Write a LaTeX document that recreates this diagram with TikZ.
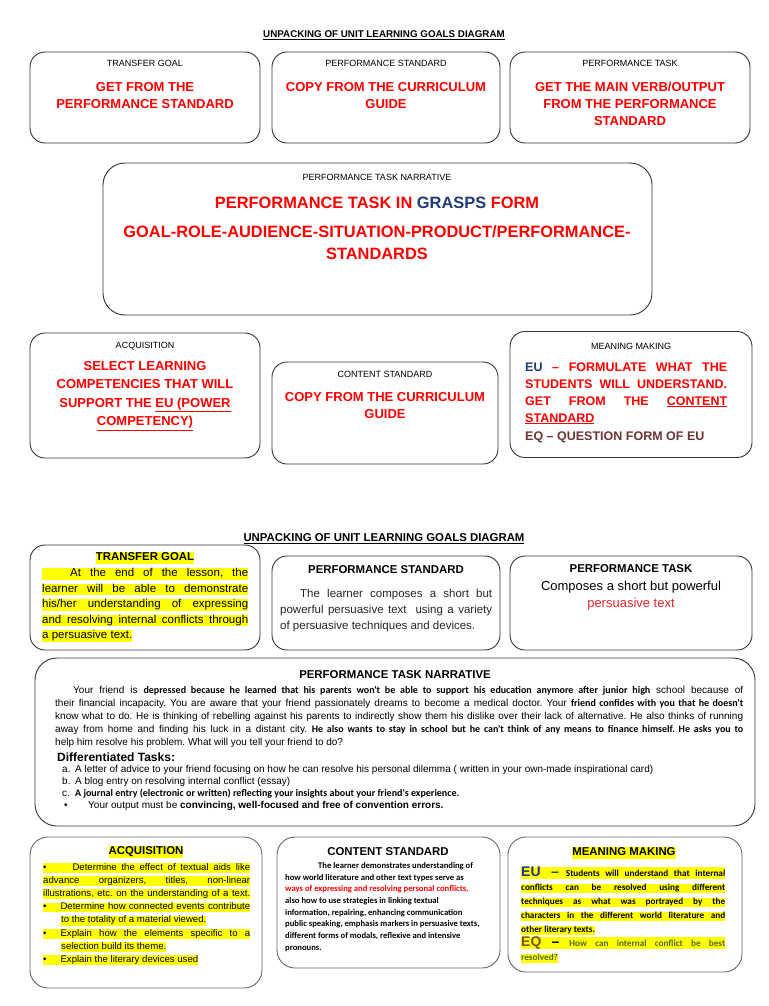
\documentclass[tikz,border=0pt]{standalone}
\usepackage{fontspec}
\setmainfont{Liberation Sans}
\newfontfamily\carlito{Carlito}
\definecolor{ugred}{HTML}{FF0000}
\definecolor{ptred}{HTML}{E8262B}
\definecolor{ugnavy}{HTML}{1F3A78}
\definecolor{eqbrown}{HTML}{6E3434}
\definecolor{eqgold}{HTML}{7F4F10}
\definecolor{eqgreen}{HTML}{4F6A28}
\definecolor{hlyellow}{HTML}{FFFF00}
\setlength{\fboxsep}{0pt}
\frenchspacing
\newcommand{\fsz}[2]{\fontsize{#1}{#2}\selectfont}
\newcommand{\hlstrut}{\rule[-0.28em]{0pt}{1.02em}}
\newcommand{\hlfull}[2]{\colorbox{hlyellow}{\makebox[#1][s]{\hlstrut#2}}}
\newcommand{\hlpart}[1]{\colorbox{hlyellow}{\hlstrut#1}}
\newcommand{\jline}[2]{\makebox[#1][s]{#2}}
\newcommand{\calb}{\carlito\bfseries\fsz{10}{13}}
\newcommand{\mmcal}{\carlito\bfseries\fsz{9.2}{14}}
\newcommand{\csfont}{\carlito\bfseries\fsz{8.6}{11.7}}

\begin{document}
\begin{tikzpicture}[x=1pt, y=-1pt,
  goalbox/.style={draw=black!80, line width=0.9pt, rounded corners=15pt, fill=white},
  lowbox/.style={draw=black!60, line width=0.9pt, rounded corners=18pt, fill=white},
  boxlabel/.style={font=\fsz{9}{11}},
  redbody/.style={text=ugred, font=\bfseries\fsz{13}{17.2}, align=center},
  headbold/.style={font=\bfseries\fsz{11.4}{14}},
  bodytext/.style={anchor=west, inner sep=0pt, align=left}]
\useasboundingbox[fill=white] (0,0) rectangle (768,1006);

\node[font=\bfseries\fsz{9.8}{12}] (title1) at (384,35) {\underline{UNPACKING OF UNIT LEARNING GOALS DIAGRAM}};

\node[goalbox, minimum width=230pt, minimum height=91pt] (tgoal) at (145,97.5) {};
\node[goalbox, minimum width=228pt, minimum height=91pt] (pstd) at (386,97.5) {};
\node[goalbox, minimum width=240pt, minimum height=91pt] (ptask) at (630,97.5) {};
\node[boxlabel] (tgoalhead) at (145,63) {TRANSFER GOAL};
\node[boxlabel] (pstdhead) at (386,63) {PERFORMANCE STANDARD};
\node[boxlabel] (ptaskhead) at (630,63) {PERFORMANCE TASK};
\node[redbody] (tgoalbody) at (145,95.5) {GET FROM THE\\PERFORMANCE STANDARD};
\node[redbody] (pstdbody) at (386,95.5) {COPY FROM THE CURRICULUM\\GUIDE};
\node[redbody] (ptaskbody) at (630,104) {GET THE MAIN VERB/OUTPUT\\FROM THE PERFORMANCE\\STANDARD};

\node[goalbox, rounded corners=22pt, minimum width=549pt, minimum height=152pt] (narr) at (377.5,239) {};
\node[boxlabel] (narrhead) at (377,177) {PERFORMANCE TASK NARRATIVE};
\node[text=ugred, font=\bfseries\fsz{16.4}{22}] (grasps) at (377,203) {PERFORMANCE TASK IN \textcolor{ugnavy}{GRASPS} FORM};
\node[text=ugred, font=\bfseries\fsz{16.4}{22}, align=center] (graspsfull) at (377,243) {GOAL-ROLE-AUDIENCE-SITUATION-PRODUCT/PERFORMANCE-\\STANDARDS};

\node[goalbox, minimum width=230pt, minimum height=125pt] (acq) at (145,395.5) {};
\node[goalbox, minimum width=226pt, minimum height=102pt] (cstd) at (385,413) {};
\node[goalbox, minimum width=242pt, minimum height=126pt] (mmake) at (631,394.5) {};
\node[boxlabel] (acqhead) at (145,346) {ACQUISITION};
\node[boxlabel] (cstdhead) at (385,374) {CONTENT STANDARD};
\node[boxlabel] (mmakehead) at (631,346) {MEANING MAKING};
\node[redbody, font=\bfseries\fsz{13}{18.5}] (acqbody) at (145,396) {SELECT LEARNING\\COMPETENCIES THAT WILL\\SUPPORT THE \underline{EU (POWER}\\\underline{COMPETENCY)}};
\node[redbody] (cstdbody) at (385,405.5) {COPY FROM THE CURRICULUM\\GUIDE};
\node[bodytext, text=ugred, font=\bfseries\fsz{12.5}{17}] (mmakebody) at (525,402.5) {%
\jline{202pt}{\textcolor{ugnavy}{EU} – FORMULATE WHAT THE}\\
\jline{202pt}{STUDENTS WILL UNDERSTAND.}\\
\jline{202pt}{GET FROM THE \underline{CONTENT}}\\
\underline{STANDARD}\\[1pt]
\textcolor{eqbrown}{EQ – QUESTION FORM OF EU}};

\node[font=\bfseries\fsz{11.4}{14}] (title2) at (384,539) {\underline{UNPACKING OF UNIT LEARNING GOALS DIAGRAM}};

\node[goalbox, minimum width=230pt, minimum height=105pt] (tgoal2) at (145,597.5) {};
\node[goalbox, minimum width=228pt, minimum height=94pt] (pstd2) at (386,603) {};
\node[goalbox, minimum width=242pt, minimum height=94pt] (ptask2) at (631,603) {};
\node[headbold] (tgoal2head) at (145,558) {\hlpart{TRANSFER GOAL}};
\node[bodytext, font=\fsz{11.5}{15.5}] (tgoal2body) at (42,605) {%
\hlfull{206pt}{\hspace*{28pt}At the end of the lesson, the}\\
\hlfull{206pt}{learner will be able to demonstrate}\\
\hlfull{206pt}{his/her understanding of expressing}\\
\hlfull{206pt}{and resolving internal conflicts through}\\
\hlpart{a persuasive text.}};
\node[headbold] (pstd2head) at (386,570) {PERFORMANCE STANDARD};
\node[bodytext, text=black!85, font=\fsz{11.5}{16}] (pstd2body) at (280,611) {%
\jline{212pt}{\hspace*{20pt}The learner composes a short but}\\
\jline{212pt}{powerful persuasive text\ \ using a variety}\\
of persuasive techniques and devices.};
\node[headbold] (ptask2head) at (631,569) {PERFORMANCE TASK};
\node[font=\fsz{13}{16}] (ptask2body) at (631,587) {Composes a short but powerful};
\node[text=ptred, font=\fsz{13}{16}] (ptask2red) at (631,604) {persuasive text};

\node[goalbox, rounded corners=22pt, minimum width=720pt, minimum height=168pt] (narr2) at (395,742) {};
\node[headbold] (narr2head) at (395,675) {PERFORMANCE TASK NARRATIVE};
\node[bodytext, font=\fsz{10}{13}] (story) at (55,717) {%
\jline{688pt}{\hspace*{18pt}Your friend is {\calb depressed because he learned that his parents won't be able to support his education anymore after junior high} school because of}\\
\jline{688pt}{their financial incapacity. You are aware that your friend passionately dreams to become a medical doctor. Your {\calb friend confides with you that he doesn't}}\\
\jline{688pt}{know what to do. He is thinking of rebelling against his parents to indirectly show them his dislike over their lack of alternative. He also thinks of running}\\
\jline{688pt}{away from home and finding his luck in a distant city. {\calb He also wants to stay in school but he can't think of any means to finance himself. He asks you to}}\\
help him resolve his problem. What will you tell your friend to do?};
\node[bodytext, font=\bfseries\fsz{12}{14}] (difftasks) at (57,757) {Differentiated Tasks:};
\node[bodytext, font=\fsz{10}{12}] (tasklist) at (62,788) {%
\makebox[13pt][l]{a.}A letter of advice to your friend focusing on how he can resolve his personal dilemma ( written in your own-made inspirational card)\\
\makebox[13pt][l]{b.}A blog entry on resolving internal conflict (essay)\\
\makebox[13pt][l]{c.}{\carlito\bfseries\fsz{10}{12}A journal entry (electronic or written) reflecting your insights about your friend's experience.}\\
\makebox[26pt][l]{\hspace{2pt}•}Your output must be \textbf{convincing, well-focused and free of convention errors.}};

\node[lowbox, minimum width=232pt, minimum height=151pt] (acq2) at (146,912.5) {};
\node[lowbox, minimum width=223pt, minimum height=131pt] (cstd2) at (388.5,902.5) {};
\node[lowbox, minimum width=234pt, minimum height=135pt] (mmake2) at (625,904.5) {};
\node[headbold] (acq2head) at (146,852) {\hlpart{ACQUISITION}};
\node[bodytext, font=\fsz{9.6}{13.2}] (acq2body) at (43,914) {%
\hlfull{207pt}{•\hspace*{26pt}Determine the effect of textual aids like}\\
\hlfull{207pt}{advance organizers, titles, non-linear}\\
\hlfull{207pt}{illustrations, etc. on the understanding of a text.}\\
\hlfull{207pt}{•\hspace*{14pt}Determine how connected events contribute}\\
\hspace*{18pt}\hlpart{to the totality of a material viewed.}\\
\hlfull{207pt}{•\hspace*{14pt}Explain how the elements specific to a}\\
\hspace*{18pt}\hlpart{selection build its theme.}\\
\hlpart{•\hspace*{14pt}Explain the literary devices used}};
\node[headbold] (cstd2head) at (388,852) {CONTENT STANDARD};
\node[bodytext, font=\csfont] (cstd2body) at (285,907) {%
\hspace*{33pt}The learner demonstrates understanding of\\
how world literature and other text types serve as\\
\textcolor{ugred}{ways of expressing and resolving personal conflicts,}\\
also how to use strategies in linking textual\\
information, repairing, enhancing communication\\
public speaking, emphasis markers in persuasive texts,\\
different forms of modals, reflexive and intensive\\
pronouns.};
\node[headbold] (mmake2head) at (624,853) {\hlpart{MEANING MAKING}};
\node[bodytext, font=\fsz{9.2}{14}] (mmake2body) at (521,915) {%
\hlfull{204pt}{{\bfseries\fsz{14}{14}\color{ugnavy}EU –} {\mmcal Students will understand that internal}}\\
\hlfull{204pt}{\mmcal conflicts can be resolved using different}\\
\hlfull{204pt}{\mmcal techniques as what was portrayed by the}\\
\hlfull{204pt}{\mmcal characters in the different world literature and}\\
\hlpart{\mmcal other literary texts.}\\
\hlfull{204pt}{{\bfseries\fsz{14}{14}\color{eqgold}EQ} {\bfseries\fsz{14}{14}–} {\mmcal\color{eqgreen}How can internal conflict be best}}\\
\hlpart{\mmcal\color{eqgreen}resolved?}};
\end{tikzpicture}
\end{document}
